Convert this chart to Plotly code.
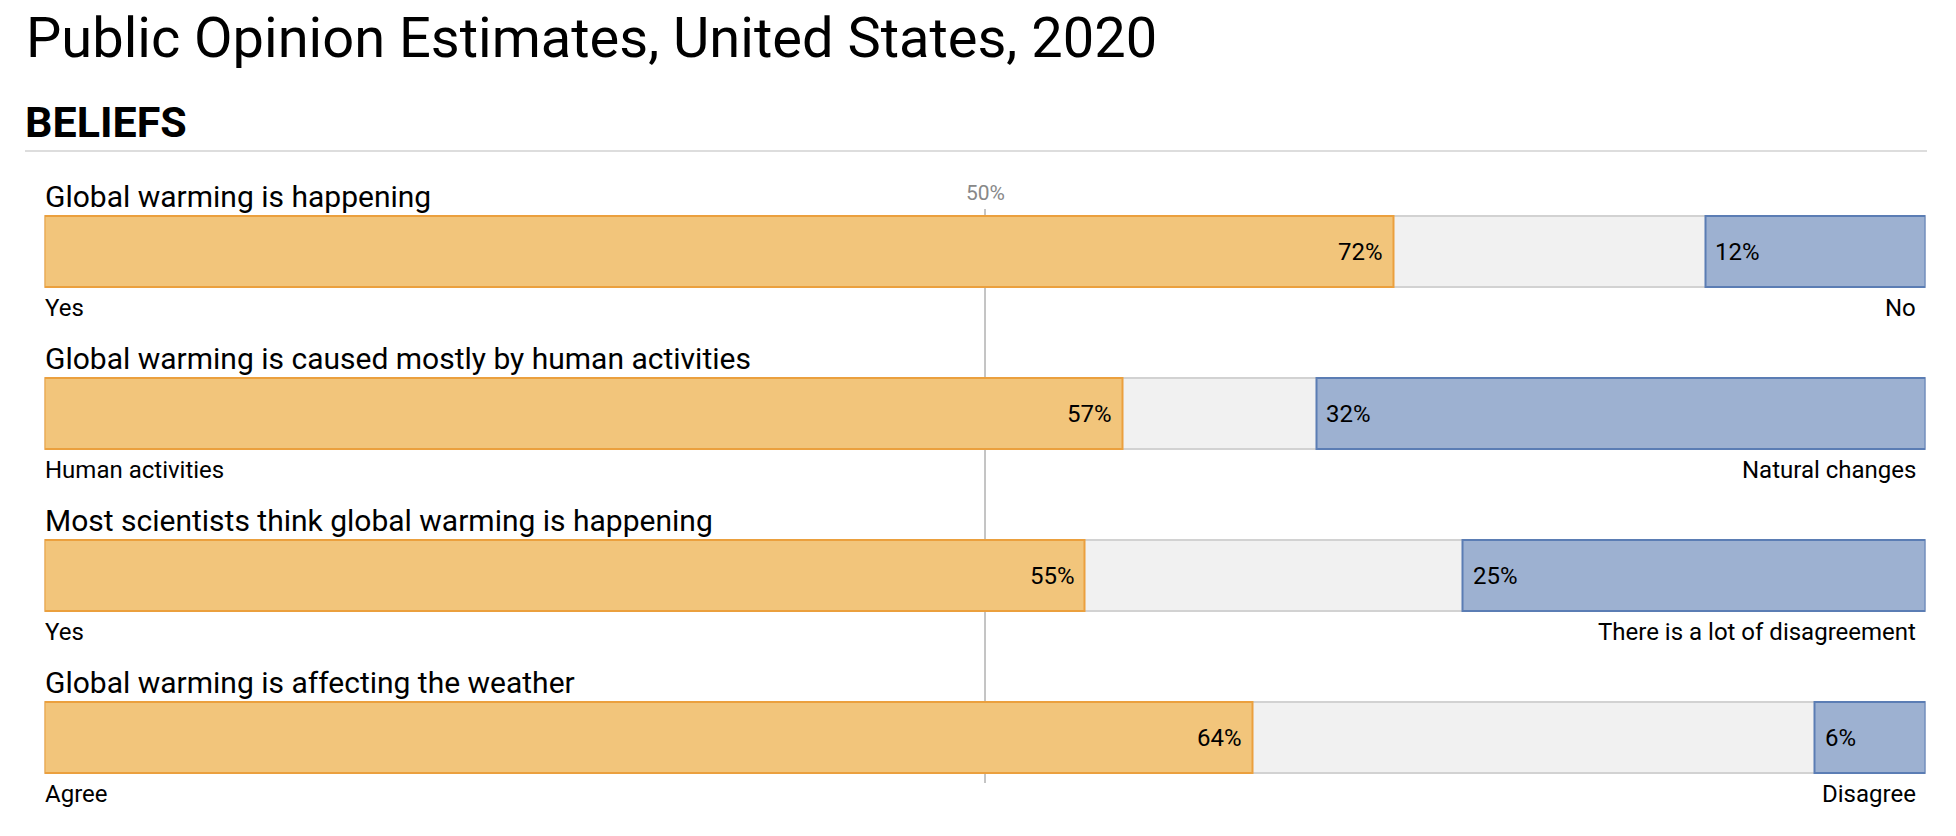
import plotly.graph_objects as go

# ---- data ----
questions = [
    "Global warming is happening",
    "Global warming is caused mostly by human activities",
    "Most scientists think global warming is happening",
    "Global warming is affecting the weather",
]
agree_values = [71.7, 57.3, 55.3, 64.2]
disagree_values = [11.7, 32.4, 24.6, 5.9]
agree_labels = ["Yes", "Human activities", "Yes", "Agree"]
disagree_labels = ["No", "Natural changes", "There is a lot of disagreement", "Disagree"]
midpoint = 50

W, H = 1956, 836
ROW0, ROWSTEP = 251.5, 162.0
X0, X1 = 44.5, 1925.5

def ypx(p):
    return (p - ROW0) / ROWSTEP

def ypaper(p):
    return 1 - p / H

rows = list(range(len(questions)))
bar_w = 71 / ROWSTEP

FONT = "Roboto"
ORANGE_FILL, ORANGE_LINE = "#f2c57b", "#eba03e"
BLUE_FILL, BLUE_LINE = "#9db1d1", "#5b7db4"
GRAY_FILL, GRAY_LINE = "#f1f1f1", "#d2d2d2"

fig = go.Figure()

# background full-width bar
fig.add_trace(go.Bar(
    y=rows, x=[100] * len(rows), base=[0] * len(rows), orientation="h",
    width=bar_w, marker=dict(color=GRAY_FILL, line=dict(color=GRAY_LINE, width=2)),
    hoverinfo="skip", showlegend=False,
))
# agree bars
fig.add_trace(go.Bar(
    y=rows, x=agree_values, base=[0] * len(rows), orientation="h",
    width=bar_w, marker=dict(color=ORANGE_FILL, line=dict(color=ORANGE_LINE, width=2)),
    hoverinfo="skip", showlegend=False,
))
# disagree bars
fig.add_trace(go.Bar(
    y=rows, x=disagree_values, base=[100 - v for v in disagree_values], orientation="h",
    width=bar_w, marker=dict(color=BLUE_FILL, line=dict(color=BLUE_LINE, width=2)),
    hoverinfo="skip", showlegend=False,
))

annotations = []
# title & section header
annotations.append(dict(
    text="Public Opinion Estimates, United States, 2020", xref="paper", yref="paper",
    x=24 / W, y=ypaper(38.5), xanchor="left", yanchor="middle", showarrow=False,
    font=dict(family=FONT, size=56, color="#000000"),
))
annotations.append(dict(
    text="<b>BELIEFS</b>", xref="paper", yref="paper",
    x=23 / W, y=ypaper(122.5), xanchor="left", yanchor="middle", showarrow=False,
    font=dict(family=FONT, size=43, color="#000000"),
))
# midpoint label
annotations.append(dict(
    text=f"{midpoint}%", x=midpoint, y=ypx(192.5), xref="x", yref="y",
    xanchor="center", yanchor="middle", showarrow=False,
    font=dict(family=FONT, size=21, color="#888888"),
))

for i, q in enumerate(questions):
    annotations.append(dict(
        text=q, x=0, y=i + ypx(196), xref="x", yref="y", xanchor="left", yanchor="middle",
        showarrow=False, xshift=-2, font=dict(family=FONT, size=30, color="#000000"),
    ))
    annotations.append(dict(
        text=agree_labels[i], x=0, y=i + ypx(308), xref="x", yref="y", xanchor="left",
        yanchor="middle", showarrow=False, xshift=-2, font=dict(family=FONT, size=24, color="#000000"),
    ))
    annotations.append(dict(
        text=disagree_labels[i], x=100, y=i + ypx(308), xref="x", yref="y", xanchor="right",
        yanchor="middle", showarrow=False, xshift=-8, font=dict(family=FONT, size=24, color="#000000"),
    ))
    annotations.append(dict(
        text=f"{round(agree_values[i])}%", x=agree_values[i], y=i, xref="x", yref="y",
        xanchor="right", yanchor="middle", showarrow=False, xshift=-8,
        font=dict(family=FONT, size=24, color="#000000"),
    ))
    annotations.append(dict(
        text=f"{round(disagree_values[i])}%", x=100 - disagree_values[i], y=i, xref="x", yref="y",
        xanchor="left", yanchor="middle", showarrow=False, xshift=8,
        font=dict(family=FONT, size=24, color="#000000"),
    ))

shapes = [
    dict(type="line", xref="paper", yref="paper", x0=25 / W, x1=1927 / W,
         y0=ypaper(151), y1=ypaper(151), line=dict(color="#dddddd", width=2)),
    dict(type="line", xref="x", yref="y", x0=midpoint, x1=midpoint,
         y0=ypx(209), y1=ypx(783), line=dict(color="#8a8a8a", width=1), layer="below"),
]

fig.update_layout(
    width=W, height=H, margin=dict(l=0, r=0, t=0, b=0),
    paper_bgcolor="white", plot_bgcolor="white",
    barmode="overlay", bargap=0,
    xaxis=dict(domain=[X0 / W, X1 / W], range=[0, 100], visible=False, fixedrange=True),
    yaxis=dict(domain=[0, 1], range=[ypx(H), ypx(0)], visible=False, fixedrange=True),
    annotations=annotations, shapes=shapes, showlegend=False,
    font=dict(family=FONT),
)

fig.write_html("out.html", config={"displayModeBar": False})
